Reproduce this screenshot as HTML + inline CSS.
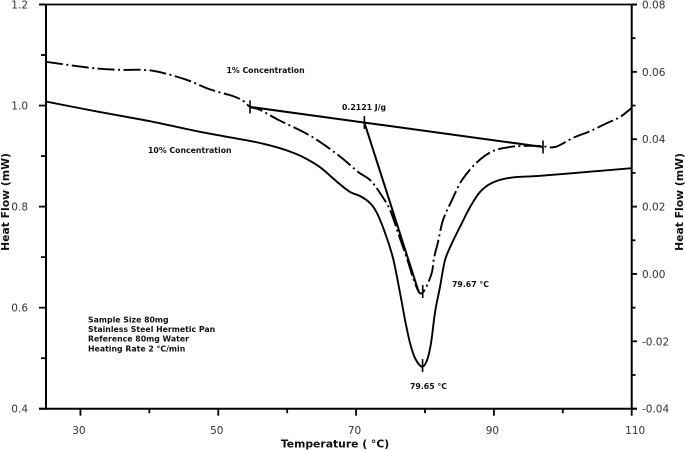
<!DOCTYPE html>
<html>
<head>
<meta charset="utf-8">
<title>Heat Flow vs Temperature</title>
<style>
html,body{margin:0;padding:0;background:#fff;width:685px;height:450px;overflow:hidden}
svg{display:block}
text{font-family:"DejaVu Sans","Liberation Sans",sans-serif}
.tick{font-size:10.5px;fill:#333}
.title{font-size:10.8px;font-weight:bold;fill:#111}
.note{font-size:7.8px;font-weight:bold;fill:#111}
</style>
</head>
<body>
<svg id="chart" width="685" height="450" viewBox="0 0 685 450" xmlns="http://www.w3.org/2000/svg">
  <g id="axes"></g>
  <g id="series"></g>
  <g id="marks"></g>
  <text class="title" x="335" y="447.5" text-anchor="middle">Temperature ( °C)</text>
  <text class="title" transform="translate(9,202) rotate(-90)" text-anchor="middle">Heat Flow (mW)</text>
  <text class="title" transform="translate(683,202) rotate(-90)" text-anchor="middle">Heat Flow (mW)</text>
  <text class="note" x="226.5" y="73">1% Concentration</text>
  <text class="note" x="148" y="153">10% Concentration</text>
  <text class="note" x="342" y="110">0.2121 J/g</text>
  <text class="note" x="452" y="287">79.67 °C</text>
  <text class="note" x="410" y="389">79.65 °C</text>
  <g>
    <text class="note" x="88" y="322.5">Sample Size 80mg</text>
    <text class="note" x="88" y="332">Stainless Steel Hermetic Pan</text>
    <text class="note" x="88" y="341.5">Reference 80mg Water</text>
    <text class="note" x="88" y="351.5">Heating Rate 2 °C/min</text>
  </g>
</svg>
<script>
const xMajorTicks = [30, 50, 70, 90, 110];
const xMinorTicks = [40, 60, 80, 100];
const leftMajorTicks = [0.4, 0.6, 0.8, 1.0, 1.2];
const leftMinorTicks = [0.5, 0.7, 0.9, 1.1];
const rightMajorTicks = [-0.04, -0.02, 0, 0.02, 0.04, 0.06, 0.08];
const rightMinorTicks = [-0.03, -0.01, 0.01, 0.03, 0.05, 0.07];

const temp10 = [25,32.84,40.09,47.35,54.61,57.51,59.98,62.30,64.77,67.24,69.12,70.57,72.03,73.04,74.20,75.36,76.38,77.10,77.83,78.56,79.57,80.30,80.88,81.46,82.18,82.91,83.93,85.38,86.54,87.99,89.73,92.34,96.70,103.96,110];
const flow10 = [1.008,0.987,0.969,0.948,0.930,0.921,0.911,0.898,0.878,0.849,0.829,0.821,0.807,0.787,0.748,0.698,0.629,0.576,0.530,0.500,0.483,0.496,0.530,0.591,0.641,0.694,0.728,0.768,0.799,0.829,0.847,0.857,0.861,0.869,0.876];

const temp1 = [25,31.39,35.74,39.08,41.55,45.46,48.80,52.14,53.59,54.61,56.06,58.96,62.30,64.77,67.96,70.28,72.03,73.48,74.93,76.09,77.54,78.27,79.14,79.72,80.44,81.02,81.31,81.89,82.62,83.93,85.38,87.56,89.88,92.34,94.23,96.70,98.88,101.49,103.96,106.42,108.31,110];
const flow1 = [0.0630,0.0612,0.0606,0.0606,0.0599,0.0576,0.0548,0.0528,0.0514,0.0496,0.0487,0.0455,0.0422,0.0392,0.0344,0.0303,0.0279,0.0240,0.0190,0.0122,0.0036,-0.0012,-0.0054,-0.0054,-0.0027,0.0006,0.0047,0.0095,0.0160,0.0220,0.0279,0.0332,0.0365,0.0377,0.0380,0.0380,0.0377,0.0404,0.0424,0.0448,0.0466,0.0493];

const baselineTemp = [54.61, 97.13];
const baselineFlow = [0.0496, 0.0377];
const dropTemp = [71.2, 79.1];
const dropFlow = [0.0450, -0.0054];
const markerTemp = [54.61, 71.2, 97.13, 79.67, 79.65];
const markerFlow = [0.0496, 0.0450, 0.0377, -0.0052, -0.0272];

const PLOT = { left: 46, right: 631.7, top: 4.5, bottom: 408.7 };
const xAxis = t => PLOT.left + (t - 25) / 85 * (PLOT.right - PLOT.left);
const yLeft = v => PLOT.bottom - (v - 0.4) / 0.8 * (PLOT.bottom - PLOT.top);
const yRight = v => PLOT.bottom - (v + 0.04) / 0.12 * (PLOT.bottom - PLOT.top);

const NS = 'http://www.w3.org/2000/svg';
const axes = document.getElementById('axes');
const series = document.getElementById('series');
const marks = document.getElementById('marks');

function make(parent, tag, props, text) {
  const el = document.createElementNS(NS, tag);
  for (const k in props) el.setAttribute(k, props[k]);
  if (text !== undefined) el.textContent = text;
  parent.appendChild(el);
  return el;
}
function line(parent, x1, y1, x2, y2, w) {
  return make(parent, 'line', { x1, y1, x2, y2, stroke: '#000', 'stroke-width': w });
}
function smoothPath(pts) {
  let d = 'M' + pts[0][0].toFixed(2) + ' ' + pts[0][1].toFixed(2);
  for (let i = 0; i < pts.length - 1; i++) {
    const p0 = pts[Math.max(i - 1, 0)], p1 = pts[i], p2 = pts[i + 1], p3 = pts[Math.min(i + 2, pts.length - 1)];
    const c1x = p1[0] + (p2[0] - p0[0]) / 6, c1y = p1[1] + (p2[1] - p0[1]) / 6;
    const c2x = p2[0] - (p3[0] - p1[0]) / 6, c2y = p2[1] - (p3[1] - p1[1]) / 6;
    d += 'C' + c1x.toFixed(2) + ' ' + c1y.toFixed(2) + ' ' + c2x.toFixed(2) + ' ' + c2y.toFixed(2) + ' ' + p2[0].toFixed(2) + ' ' + p2[1].toFixed(2);
  }
  return d;
}

// axis frame
const leftAxis = line(axes, PLOT.left, PLOT.top, PLOT.left, PLOT.bottom + 1, 2);


const rightAxis = line(axes, PLOT.right, PLOT.top, PLOT.right, PLOT.bottom + 1, 2);


const topAxis = line(axes, 39, PLOT.top, 637, PLOT.top, 1.8);


const bottomAxis = line(axes, 39, PLOT.bottom, 637, PLOT.bottom, 2);



// x ticks
xMajorTicks.forEach(t => {
  const x = xAxis(t);
  const tick = line(axes, x, PLOT.bottom, x, PLOT.bottom + 7, 1.8);
  
  
  const labelX = t === 110 ? x + 3.5 : x - 1.5;
  const label = make(axes, 'text', { class: 'tick', x: labelX, y: 434, 'text-anchor': 'middle' }, String(t));
  
  
});
xMinorTicks.forEach(t => {
  const x = xAxis(t);
  const tick = line(axes, x, PLOT.bottom, x, PLOT.bottom + 4.5, 1.8);
  
  
});

// left ticks
leftMajorTicks.forEach(v => {
  const y = yLeft(v);
  const tick = line(axes, 39, y, PLOT.left, y, 1.8);
  
  
  const label = make(axes, 'text', { class: 'tick', x: 28, y: y + 4, 'text-anchor': 'end' }, v.toFixed(1));
  
  
});
leftMinorTicks.forEach(v => {
  const y = yLeft(v);
  const tick = line(axes, 41, y, PLOT.left, y, 1.8);
  
  
});

// right ticks
rightMajorTicks.forEach(v => {
  const y = yRight(v);
  const tick = line(axes, PLOT.right, y, 637, y, 1.8);
  
  
  const label = make(axes, 'text', { class: 'tick', x: 642, y: y + 4 }, v.toFixed(2));
  
  
});
rightMinorTicks.forEach(v => {
  const y = yRight(v);
  const tick = line(axes, PLOT.right, y, 635.5, y, 1.8);
  
  
});

// series
const curve10 = make(series, 'path', {
  d: smoothPath(temp10.map((t, i) => [xAxis(t), yLeft(flow10[i])])),
  fill: 'none', stroke: '#000', 'stroke-width': 1.9, 'stroke-linejoin': 'round'
});



const curve1 = make(series, 'path', {
  d: smoothPath(temp1.map((t, i) => [xAxis(t), yRight(flow1[i])])),
  fill: 'none', stroke: '#000', 'stroke-width': 1.9, 'stroke-dasharray': '17 3.5 2 3.5'
});



// integration baseline and drop line
const baseline = line(marks, xAxis(baselineTemp[0]), yRight(baselineFlow[0]), xAxis(baselineTemp[1]), yRight(baselineFlow[1]), 2);


const dropLine = line(marks, xAxis(dropTemp[0]), yRight(dropFlow[0]), xAxis(dropTemp[1]), yRight(dropFlow[1]), 2);



// cross marks
markerTemp.forEach((t, i) => {
  const x = xAxis(t), y = yRight(markerFlow[i]);
  const m = line(marks, x, y - 6.5, x, y + 6.5, 1.6);
  
  
});
</script>
</body>
</html>
